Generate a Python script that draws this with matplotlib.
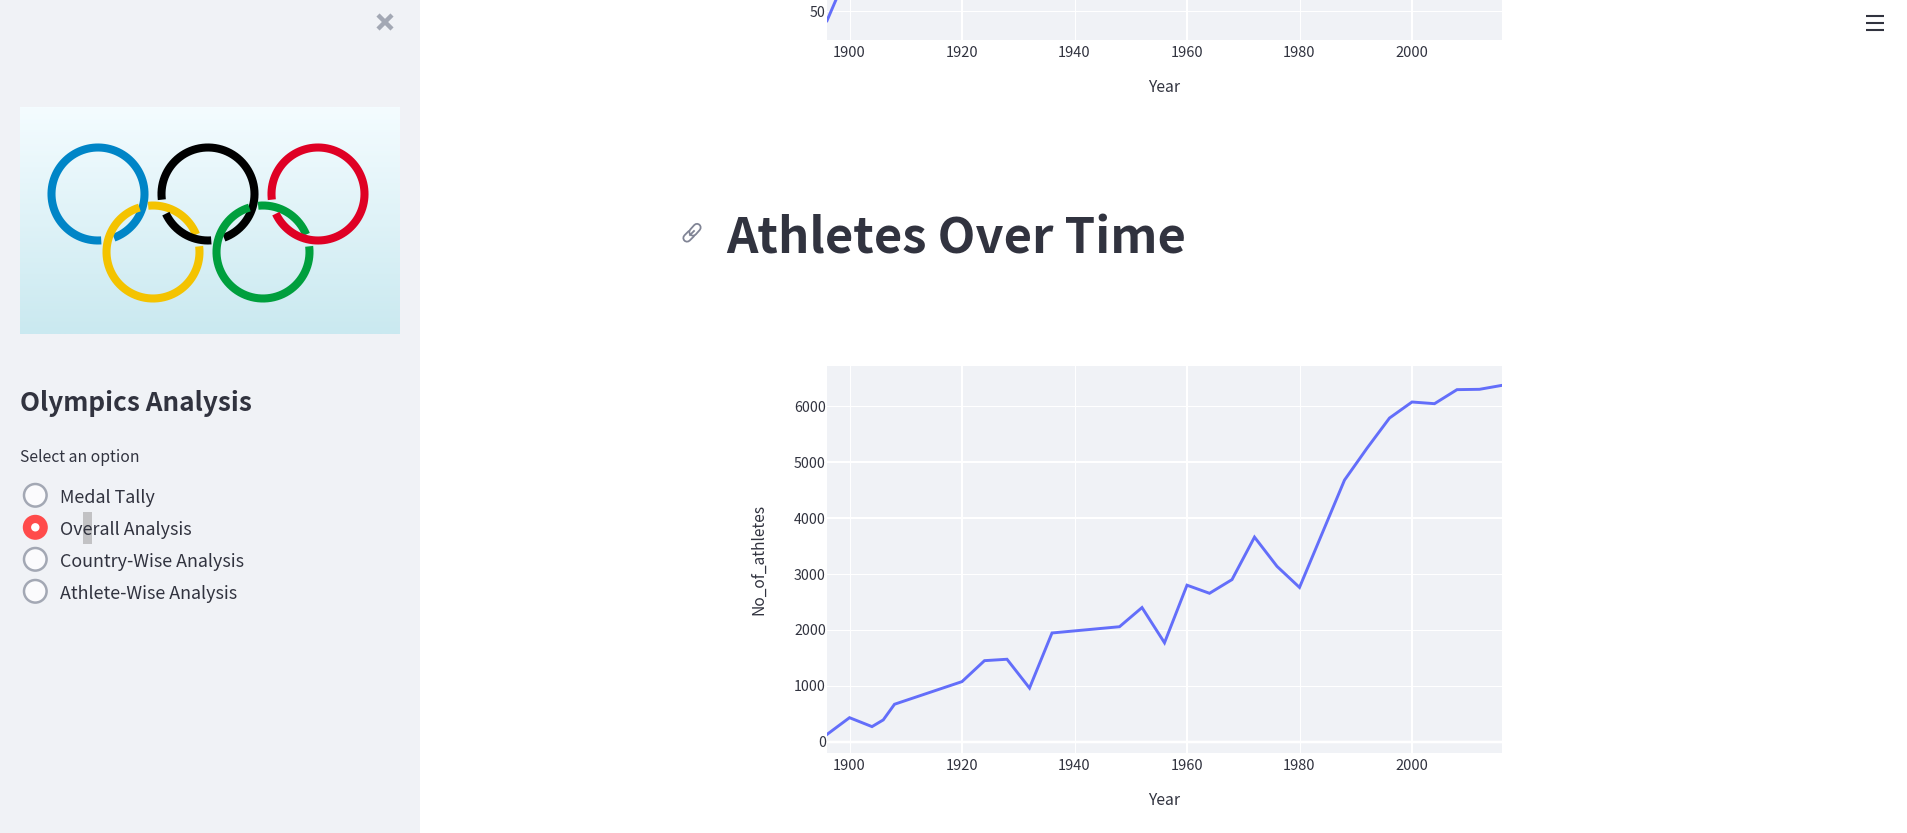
import numpy as np
import matplotlib
matplotlib.use('Agg')
import matplotlib.pyplot as plt
from matplotlib.patches import Circle, Rectangle

plt.rcParams['font.family'] = ['Noto Sans CJK SC', 'DejaVu Sans']

W, H = 1907, 833
TEXT = '#31333F'
PANEL = '#F0F2F6'
LINE = '#636EFA'

# athletes chart
years = [1896, 1900, 1904, 1906, 1908, 1920, 1924, 1928, 1932, 1936, 1948, 1952, 1956,
         1960, 1964, 1968, 1972, 1976, 1980, 1984, 1988, 1992, 1996, 2000, 2004, 2008, 2012, 2016]
athletes = [130, 430, 270, 390, 670, 1075, 1450, 1475, 960, 1945, 2057, 2400, 1770,
            2800, 2655, 2900, 3660, 3137, 2760, 3720, 4680, 5250, 5790, 6077, 6047, 6298, 6304, 6375]

# the chart above, only its start is on screen
prev_years = [1896, 1900]
prev_values = [43, 82]

x_ticks = [1900, 1920, 1940, 1960, 1980, 2000]
athlete_ticks = [0, 1000, 2000, 3000, 4000, 5000, 6000]
prev_ticks = [50]

menu_items = ['Medal Tally', 'Overall Analysis', 'Country-Wise Analysis', 'Athlete-Wise Analysis']


def px_axes(left, top, right, bottom):
    return fig.add_axes([left / W, 1 - bottom / H, (right - left) / W, (bottom - top) / H])


def style_chart(ax):
    ax.set_facecolor(PANEL)
    for s in ax.spines.values():
        s.set_visible(False)
    ax.grid(True, color='white', linewidth=0.75)
    ax.set_axisbelow(True)
    ax.tick_params(length=0, labelsize=10.5, labelcolor=TEXT)
    ax.tick_params(axis='x', pad=4.3)
    ax.tick_params(axis='y', pad=0.8, labelsize=10.2)
    ax.set_xlim(1896, 2016)
    ax.set_xticks(x_ticks)
    # the screenshot was resized, every other grid line came out heavier
    for g, lw in zip(ax.get_xgridlines(), [0.75, 1.5, 0.75, 1.5, 0.75, 1.5]):
        g.set_linewidth(lw)


fig = plt.figure(figsize=(W / 100, H / 100), dpi=100, facecolor='white')

# page layer in pixel coordinates
bg = fig.add_axes([0, 0, 1, 1])
bg.axis('off')

bg.add_patch(Rectangle((0, 0), 420, H, color=PANEL, lw=0))

# logo
grad = np.linspace(0, 1, 100).reshape(-1, 1, 1)
top_c = np.array([0xF4, 0xFC, 0xFF]) / 255
bot_c = np.array([0xCA, 0xE9, 0xF0]) / 255
bg.imshow(top_c + (bot_c - top_c) * grad, extent=(20, 400, 334, 107), aspect='auto', zorder=1)

rings = [
    ('#0085C7', 98, 194, [(-70, 274)]),
    ('#F4C300', 153, 252, [(-253, 7), (22, 96)]),
    ('#000000', 208, 194, [(-70, 187), (205, 274)]),
    ('#009F3D', 263, 252, [(-253, 7), (22, 96)]),
    ('#DF0024', 318, 194, [(-155, 187)]),
]
for color, cx, cy, spans in rings:
    for a, b in spans:
        t = np.radians(np.linspace(a, b, 200))
        bg.plot(cx + 46.5 * np.cos(t), cy - 46.5 * np.sin(t), color=color, lw=5.8,
                solid_capstyle='butt', zorder=2)

# close button
for dx in (-1, 1):
    bg.plot([385 - 7 * dx, 385 + 7 * dx], [15, 29], color='#A3A8B4', lw=3.2, solid_capstyle='butt')

bg.text(20.5, 403, 'Olympics Analysis', fontsize=18.8, fontweight='bold', color=TEXT, va='center')
bg.text(20.5, 457, 'Select an option', fontsize=11.3, color=TEXT, va='center')

# cursor left on the menu
bg.add_patch(Rectangle((83, 512), 9, 32, color='#C2C2C4', lw=0, zorder=2))

for i, label in enumerate(menu_items):
    y = 495.3 + 32 * i
    if i == 1:
        bg.add_patch(Circle((35.3, y), 12.5, color='#FF4B4B', lw=0, zorder=3))
        bg.add_patch(Circle((35.3, y), 4.2, color='white', lw=0, zorder=4))
    else:
        bg.add_patch(Circle((35.3, y), 11.3, facecolor='#FBFBFD', edgecolor='#A3A8B4', lw=1.8, zorder=3))
    bg.text(60.5, y + 3, label, fontsize=12.9, color=TEXT, va='center', zorder=5)

# heading
bg.text(726, 239, 'Athletes Over Time', fontsize=35.3, fontweight='bold', color=TEXT, va='center')

# link icon
for (x0, y0, x1, y1) in [(687, 238, 691, 234), (693, 232, 697, 227.5)]:
    bg.plot([x0, x1], [y0, y1], color='#808495', lw=6.6, solid_capstyle='round')
    bg.plot([x0, x1], [y0, y1], color='white', lw=4.0, solid_capstyle='round')
bg.plot([690, 694], [235, 231], color='#808495', lw=1.3)

# hamburger
for y in (16, 23, 30):
    bg.plot([1866, 1884], [y, y], color=TEXT, lw=1.5, solid_capstyle='butt')

bg.set_xlim(0, W)
bg.set_ylim(H, 0)

# top chart, cut by the window
ax_prev = px_axes(827, 0, 1502, 40)
style_chart(ax_prev)
ax_prev.plot(prev_years, prev_values, color=LINE, lw=2.1)
ax_prev.set_ylim(28.6, 58.4)
ax_prev.set_yticks(prev_ticks)
ax_prev.set_xlabel('Year', fontsize=11.3, color=TEXT, labelpad=13.7)

# athletes chart
ax = px_axes(827, 366, 1502, 753)
style_chart(ax)
ax.plot(years, athletes, color=LINE, lw=2.1, solid_joinstyle='miter')
ax.axhline(0, color='white', lw=1.7, zorder=1)
ax.set_ylim(-202, 6721)
ax.set_yticks(athlete_ticks)
for g, lw in zip(ax.get_ygridlines(), [1.7, 0.75, 0.75, 0.75, 1.5, 1.5, 0.75]):
    g.set_linewidth(lw)
ax.set_xlabel('Year', fontsize=11.3, color=TEXT, labelpad=13.7)
ax.set_ylabel('No_of_athletes', fontsize=11.2, color=TEXT, labelpad=19)

fig.savefig('out.png', dpi=100, facecolor='white')
